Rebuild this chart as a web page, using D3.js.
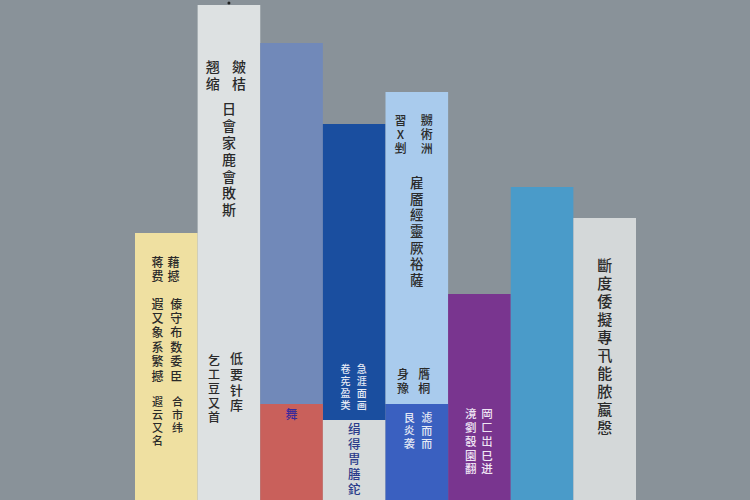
<!DOCTYPE html>
<html><head><meta charset="utf-8">
<script src="https://cdn.jsdelivr.net/npm/d3@7"></script>
<style>html,body{margin:0;padding:0;background:#899299;}svg{display:block;}
.vt{writing-mode:vertical-rl;text-orientation:upright;}</style>
</head><body>
<svg id="chart" width="750" height="500"></svg>
<script>
// ---- data ----
const categories = ["甲类", "乙类", "丙类", "丁类", "戊类", "己类", "庚类", "辛类"];
const baseValues = [0, 0, 19.2, 16, 19.2, 0, 0, 0];                  // lower segment
const upperValues = [53.4, 99, 72.2, 59.2, 62.4, 41.2, 62.6, 56.4];  // upper segment

// ---- styles ----
const upperColors = ["#efe0a1", "#dde1e2", "#7189b9", "#1a4e9f", "#a9cbed", "#79358f", "#4a9bc9", "#d4d8d9"];
const baseColors  = [null, null, "#c9605b", "#d6dadb", "#3a60c0", null, null, null];

const W = 750, H = 500;
const svg = d3.select("#chart");
svg.append("rect").attr("width", W).attr("height", H).attr("fill", "#899299");

const x = d3.scaleBand().domain(categories).range([135, 636]).padding(0);
const y = d3.scaleLinear().domain([0, 100]).range([H, 0]);

const rows = categories.map((c, i) => ({ c, i, base: baseValues[i], top: baseValues[i] + upperValues[i] }));

svg.append("g").selectAll("rect").data(rows).join("rect")
  .attr("x", d => x(d.c)).attr("width", x.bandwidth())
  .attr("y", d => y(d.top)).attr("height", d => y(d.base) - y(d.top))
  .attr("fill", d => upperColors[d.i]);

svg.append("g").selectAll("rect").data(rows.filter(d => d.base > 0)).join("rect")
  .attr("x", d => x(d.c)).attr("width", x.bandwidth())
  .attr("y", d => y(d.base)).attr("height", d => y(0) - y(d.base))
  .attr("fill", d => baseColors[d.i]);

// small marker at the top of the tallest bar
svg.append("circle").attr("cx", x(categories[1]) + x.bandwidth() * 0.5).attr("cy", y(upperValues[1]) - 2)
  .attr("r", 1.5).attr("fill", "#222");

// ---- vertical text labels (bar index, x fraction, top y, columns, size, colour) ----
const labels = [
  { b: 0, f: 0.36, y: 256, cols: ["蒋费", "藉撼"], s: 12, c: "#2a2a2a" },
  { b: 0, f: 0.36, y: 298, cols: ["遐又象系繁撼"], s: 12, c: "#2a2a2a" },
  { b: 0, f: 0.66, y: 298, cols: ["傣守布数委臣"], s: 12, c: "#2a2a2a" },
  { b: 0, f: 0.36, y: 396, cols: ["遐云又名"], s: 11, c: "#2a2a2a" },
  { b: 0, f: 0.68, y: 396, cols: ["合市纬"], s: 11, c: "#2a2a2a" },
  { b: 1, f: 0.24, y: 60, cols: ["翘缩"], s: 14, c: "#2a2a2a" },
  { b: 1, f: 0.66, y: 60, cols: ["皴桔"], s: 14, c: "#2a2a2a" },
  { b: 1, f: 0.5, y: 102, cols: ["日會家鹿會敗斯"], s: 14, c: "#2a2a2a" },
  { b: 1, f: 0.26, y: 354, cols: ["乞工豆又首"], s: 12, c: "#2a2a2a" },
  { b: 1, f: 0.62, y: 352, cols: ["低要针库"], s: 13, c: "#2a2a2a" },
  { b: 2, f: 0.5, y: 408, cols: ["舞"], s: 12, c: "#3a2a9a" },
  { b: 3, f: 0.36, y: 364, cols: ["卷宪盈类"], s: 10, c: "#e6eaf5" },
  { b: 3, f: 0.62, y: 364, cols: ["急涯面画"], s: 10, c: "#e6eaf5" },
  { b: 3, f: 0.5, y: 423, cols: ["绢得冑膳鉈"], s: 12.5, c: "#2a3a8a" },
  { b: 4, f: 0.24, y: 114, cols: ["習Ⅹ剉"], s: 12, c: "#2a2a2a" },
  { b: 4, f: 0.66, y: 114, cols: ["嬲術洲"], s: 12, c: "#2a2a2a" },
  { b: 4, f: 0.5, y: 176, cols: ["雇靥經靈厥裕薩"], s: 13.5, c: "#2a2a2a" },
  { b: 4, f: 0.28, y: 368, cols: ["身豫"], s: 12, c: "#2a2a2a" },
  { b: 4, f: 0.62, y: 368, cols: ["膺桐"], s: 12, c: "#2a2a2a" },
  { b: 4, f: 0.38, y: 412, cols: ["艮炎袭"], s: 11, c: "#e6eaf5" },
  { b: 4, f: 0.66, y: 412, cols: ["滤而而"], s: 11, c: "#e6eaf5" },
  { b: 5, f: 0.36, y: 408, cols: ["滰劉彀園翻"], s: 11.5, c: "#f0e6f5" },
  { b: 5, f: 0.62, y: 408, cols: ["岡匚岀巳迸"], s: 11.5, c: "#f0e6f5" },
  { b: 7, f: 0.5, y: 258, cols: ["斷度倭擬專卂能脓蠃慇"], s: 15, c: "#2a2a2a" },
];

const tg = svg.append("g").attr("font-family", "'Noto Sans CJK SC', 'Noto Sans CJK TC', sans-serif");
labels.forEach(L => {
  const cx = x(categories[L.b]) + x.bandwidth() * L.f;
  L.cols.forEach((col, ci) => {
    tg.append("text")
      .attr("class", "vt")
      .attr("x", cx + ci * (L.s + 4))
      .attr("y", L.y)
      .attr("font-size", L.s)
      .attr("font-weight", 500)
      .attr("letter-spacing", L.s * 0.2)
      .attr("fill", L.c)
      .text(col);
  });
});
</script>
</body></html>
